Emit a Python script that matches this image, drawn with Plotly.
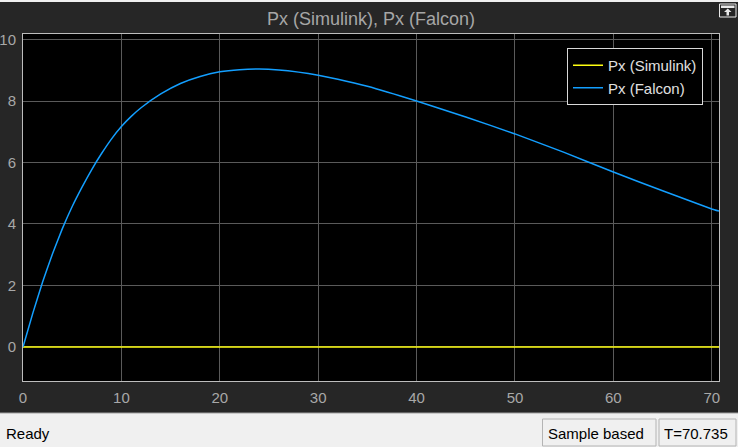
import plotly.graph_objects as go

# ---- data ----
t_falcon = [0, 1, 2, 3, 4, 5, 6, 7, 8, 9, 10, 11, 12, 14, 16, 18, 20, 22, 24, 26, 28, 30,
            32, 35, 40, 45, 50, 55, 60, 65, 70, 70.735]
px_falcon = [0, 1.1, 2.12, 3.03, 3.85, 4.57, 5.2, 5.78, 6.3, 6.77, 7.17, 7.5, 7.78, 8.23,
             8.57, 8.8, 8.95, 9.02, 9.04, 9.01, 8.94, 8.84, 8.71, 8.48, 8.0, 7.48, 6.93,
             6.33, 5.69, 5.08, 4.49, 4.42]
t_simulink = [0, 70.735]
px_simulink = [0, 0]

x_ticks = [0, 10, 20, 30, 40, 50, 60, 70]
y_ticks = [0, 2, 4, 6, 8, 10]
title_text = "Px (Simulink), Px (Falcon)"
status_left = "Ready"
status_mode = "Sample based"
status_time = "T=70.735"

# ---- layout geometry (pixels) ----
W, H = 738, 447
L, R, T, B = 23, 719, 34, 381
pw, ph = R - L, B - T


def px_x(x):
    return (x - L) / pw


def px_y(y):
    return (B - y) / ph


fig = go.Figure()
fig.add_trace(go.Scatter(x=t_simulink, y=px_simulink, mode="lines", name="Px (Simulink)",
                         line=dict(color="#ffff11", width=1.5)))
fig.add_trace(go.Scatter(x=t_falcon, y=px_falcon, mode="lines", name="Px (Falcon)",
                         line=dict(color="#139fff", width=1.5, shape="spline", smoothing=0.4)))

axis_common = dict(showgrid=True, gridcolor="#5a5a5a", gridwidth=1, zeroline=False,
                   showline=True, mirror=True, linecolor="#bdbdbd", linewidth=1,
                   ticks="", automargin=False,
                   tickfont=dict(family="Arial, Liberation Sans", size=15, color="#a8a8a8"))

fig.update_xaxes(range=[0, 70.735], tickvals=x_ticks, ticklabelstandoff=3, **axis_common)
fig.update_yaxes(range=[-1.107, 10.18], tickvals=y_ticks, ticklabelstandoff=3, **axis_common)

shapes = []
# status bar
shapes.append(dict(type="rect", xref="paper", yref="paper", x0=px_x(-5), x1=px_x(W + 5),
                   y0=px_y(H + 5), y1=px_y(413), fillcolor="#f0f0f0",
                   line=dict(color="#a0a0a0", width=1), layer="above"))
shapes.append(dict(type="rect", xref="paper", yref="paper", x0=px_x(542.5), x1=px_x(656),
                   y0=px_y(446), y1=px_y(419), fillcolor="#f0f0f0",
                   line=dict(color="#b4b4b4", width=1), layer="above"))
shapes.append(dict(type="rect", xref="paper", yref="paper", x0=px_x(659), x1=px_x(736),
                   y0=px_y(446), y1=px_y(419), fillcolor="#f0f0f0",
                   line=dict(color="#b4b4b4", width=1), layer="above"))
# top strip
shapes.append(dict(type="rect", xref="paper", yref="paper", x0=px_x(-5), x1=px_x(W + 5),
                   y0=px_y(2), y1=px_y(-5), fillcolor="#f0f0f0", line=dict(width=0),
                   layer="above"))
# undock button icon
shapes.append(dict(type="rect", xref="paper", yref="paper", x0=px_x(719.5), x1=px_x(736),
                   y0=px_y(17), y1=px_y(4), fillcolor="#262626",
                   line=dict(color="#e8e8e8", width=1), layer="above"))
shapes.append(dict(type="rect", xref="paper", yref="paper", x0=px_x(721), x1=px_x(734.5),
                   y0=px_y(8), y1=px_y(5.5), fillcolor="#e8e8e8", line=dict(width=0),
                   layer="above"))
shapes.append(dict(type="path", xref="paper", yref="paper",
                   path=(f"M {px_x(724)},{px_y(12)} L {px_x(727.75)},{px_y(8.5)} "
                         f"L {px_x(731.5)},{px_y(12)} L {px_x(729)},{px_y(12)} "
                         f"L {px_x(729)},{px_y(15.5)} L {px_x(726.5)},{px_y(15.5)} "
                         f"L {px_x(726.5)},{px_y(12)} Z"),
                   fillcolor="#e8e8e8", line=dict(width=0), layer="above"))

annotations = [
    dict(text=status_left, xref="paper", yref="paper", x=px_x(4), y=px_y(433),
         xanchor="left", yanchor="middle", showarrow=False,
         font=dict(family="Arial, Liberation Sans", size=15, color="#000000")),
    dict(text=status_mode, xref="paper", yref="paper", x=px_x(546), y=px_y(433),
         xanchor="left", yanchor="middle", showarrow=False,
         font=dict(family="Arial, Liberation Sans", size=15, color="#000000")),
    dict(text=status_time, xref="paper", yref="paper", x=px_x(662), y=px_y(433),
         xanchor="left", yanchor="middle", showarrow=False,
         font=dict(family="Arial, Liberation Sans", size=15, color="#000000")),
    dict(text=title_text, xref="paper", yref="paper", x=0.5, y=px_y(19),
         xanchor="center", yanchor="middle", showarrow=False,
         font=dict(family="Arial, Liberation Sans", size=18, color="#a6a6a6")),
]

fig.update_layout(
    width=W, height=H,
    margin=dict(l=L, r=W - R, t=T, b=H - B, pad=0, autoexpand=False),
    paper_bgcolor="#262626", plot_bgcolor="#000000",
    shapes=shapes, annotations=annotations,
    showlegend=True,
    legend=dict(x=px_x(703), y=px_y(48), xanchor="right", yanchor="top",
                bgcolor="#000000", bordercolor="#d9d9d9", borderwidth=1,
                font=dict(family="Arial, Liberation Sans", size=15, color="#e0e0e0"),
                tracegroupgap=0, itemwidth=30),
)

fig.write_html("out.html")
